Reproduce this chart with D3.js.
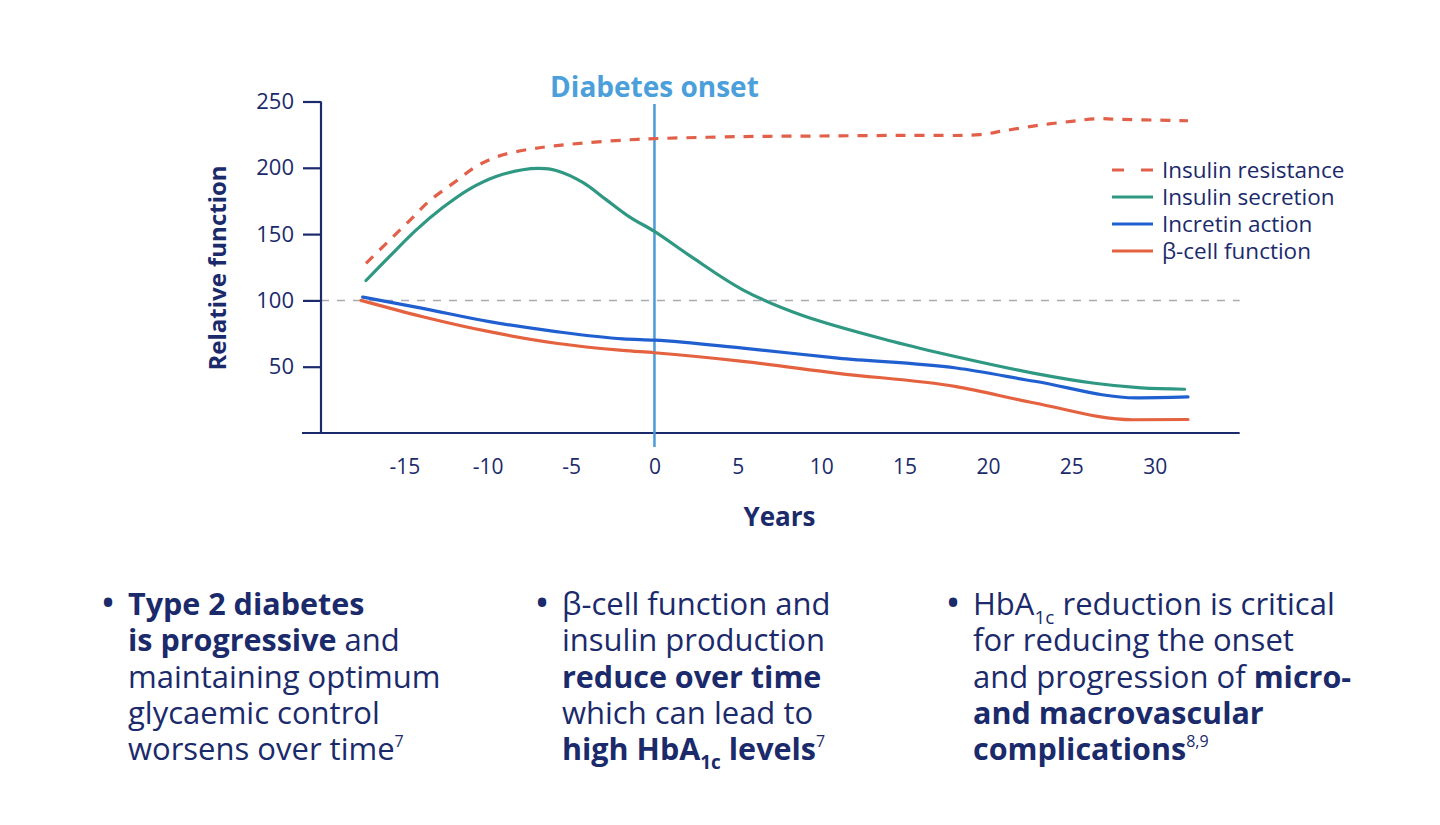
<!DOCTYPE html>
<html>
<head>
<meta charset="utf-8">
<script src="https://cdn.jsdelivr.net/npm/d3@7"></script>
<style>
  html, body { margin: 0; padding: 0; background: #ffffff; }
  svg { display: block; font-family: "Open Sans", "Noto Sans", sans-serif; }
</style>
</head>
<body>
<svg id="chart" width="1440" height="825"></svg>
<script>
// ---------------- DATA ----------------
const xTickValues = [-15, -10, -5, 0, 5, 10, 15, 20, 25, 30];
const yTickValues = [50, 100, 150, 200, 250];
const referenceLevel = 100;
const onsetYear = 0;

const resistanceYears  = [-17.3, -16, -14.7, -13.5, -12, -10.7, -9.3, -7.5, -6, -4, -1, 0, 5, 10, 15, 19.5, 21, 23, 25, 26.5, 28, 30, 32];
const resistanceValues = [128, 144, 160, 175, 189, 201, 209, 214, 216.5, 219, 221.5, 222, 223.5, 224, 224.5, 225, 228, 232, 235, 237, 236.5, 236, 235.5];

const secretionYears  = [-17.3, -15.9, -14.3, -12.7, -11.1, -9.5, -7.9, -6.9, -5.9, -4.3, -2.9, -1.5, 0, 2.2, 5.3, 8.8, 14.3, 18.1, 22.8, 26.4, 29.2, 31.8];
const secretionValues = [115, 133, 153, 170, 184, 193.5, 198.5, 199.5, 198, 189, 176, 163, 152, 133, 108, 89, 69, 57.5, 45, 37.5, 34, 33];

const incretinYears  = [-17.5, -13.9, -9.9, -5.9, -1.9, 0, 5.3, 11, 18.1, 22.8, 28.9, 32];
const incretinValues = [102.5, 94, 84, 76.5, 71, 70, 64, 56.5, 49, 39, 26.5, 27.2];

const betaYears  = [-17.6, -13.9, -9.9, -5.9, -1.9, 0, 5.3, 11, 18.1, 22.8, 28.7, 32];
const betaValues = [100, 87.7, 76.4, 67.7, 62.3, 60.5, 54, 45, 35, 22.6, 10, 10.2];

const seriesNames = ["Insulin resistance", "Insulin secretion", "Incretin action", "β-cell function"];

// ---------------- STYLE ----------------
const navy = "#1b2a6b";
const seriesStyles = [
  { color: "#e2604a", dash: "10,9", curve: d3.curveCatmullRom.alpha(0.5) },
  { color: "#2f9882", dash: null, curve: d3.curveCatmullRom.alpha(0.5) },
  { color: "#1f5fd0", dash: null, curve: d3.curveMonotoneX },
  { color: "#e4623f", dash: null, curve: d3.curveMonotoneX }
];

const svg = d3.select("#chart");

const x = d3.scaleLinear().domain([-20, 35]).range([321, 1238]);
const y = d3.scaleLinear().domain([0, 250]).range([433, 101.5]);

// reference dashed line at 100
svg.append("line")
  .attr("x1", x(-20)).attr("x2", x(35.1))
  .attr("y1", y(referenceLevel)).attr("y2", y(referenceLevel))
  .attr("stroke", "#a9abb0").attr("stroke-width", 1.5)
  .attr("stroke-dasharray", "8,8");

// Y axis
const yAxis = d3.axisLeft(y).tickValues(yTickValues).tickSize(18).tickPadding(9);
const gy = svg.append("g").attr("transform", `translate(${x(-20)},0)`).call(yAxis);
gy.select(".domain").attr("stroke", navy).attr("stroke-width", 2.2)
  .attr("d", `M-0,${y(250)}V${y(0)}`);
gy.selectAll(".tick line").attr("stroke", navy).attr("stroke-width", 2.2);
gy.selectAll(".tick text").attr("fill", navy).attr("font-size", 22)
  .attr("font-family", "'Open Sans', sans-serif");

// X axis
const xAxis = d3.axisBottom(x).tickValues(xTickValues).tickSize(0).tickPadding(26)
  .tickFormat(d => String(d));
const gx = svg.append("g").attr("transform", `translate(0,${y(0)})`).call(xAxis);
gx.select(".domain").attr("stroke", navy).attr("stroke-width", 2.2)
  .attr("d", `M302,0H${x(35.1)}`);
gx.selectAll(".tick text").attr("fill", navy).attr("font-size", 21)
  .attr("font-family", "'Open Sans', sans-serif");

// Axis titles
svg.append("text")
  .attr("transform", `translate(226,268) rotate(-90)`)
  .attr("text-anchor", "middle")
  .attr("fill", navy).attr("font-size", 24).attr("font-weight", 700)
  .text("Relative function");

svg.append("text")
  .attr("x", (x(-20) + x(35)) / 2).attr("y", 526)
  .attr("text-anchor", "middle")
  .attr("fill", navy).attr("font-size", 26).attr("font-weight", 700)
  .text("Years");

// Onset line and label
svg.append("line")
  .attr("x1", x(onsetYear)).attr("x2", x(onsetYear))
  .attr("y1", 104).attr("y2", 447)
  .attr("stroke", "#4b9bd6").attr("stroke-width", 2.5);
svg.append("text")
  .attr("x", x(onsetYear)).attr("y", 97)
  .attr("text-anchor", "middle")
  .attr("fill", "#4b9fda").attr("font-size", 28).attr("font-weight", 700)
  .text("Diabetes onset");

// Series
const allSeries = [
  { years: resistanceYears, values: resistanceValues },
  { years: secretionYears, values: secretionValues },
  { years: incretinYears, values: incretinValues },
  { years: betaYears, values: betaValues }
];

[3, 2, 1, 0].forEach(i => {
  const s = allSeries[i];
  const pts = s.years.map((yr, j) => [yr, s.values[j]]);
  const line = d3.line().x(d => x(d[0])).y(d => y(d[1])).curve(seriesStyles[i].curve);
  svg.append("path")
    .datum(pts)
    .attr("d", line)
    .attr("fill", "none")
    .attr("stroke", seriesStyles[i].color)
    .attr("stroke-width", 3.2)
    .attr("stroke-linecap", seriesStyles[i].dash ? "butt" : "round")
    .attr("stroke-linejoin", "round")
    .attr("stroke-dasharray", seriesStyles[i].dash);
});

// Legend
const legend = svg.append("g").attr("transform", "translate(1112,170)");
seriesNames.forEach((name, i) => {
  const g = legend.append("g").attr("transform", `translate(0,${i * 27})`);
  g.append("line").attr("x1", 0).attr("x2", 41).attr("y1", 0).attr("y2", 0)
    .attr("stroke", seriesStyles[i].color).attr("stroke-width", 3.2)
    .attr("stroke-dasharray", seriesStyles[i].dash ? "12,17" : null);
  g.append("text").attr("x", 50).attr("y", 0).attr("dy", "0.35em")
    .attr("fill", navy).attr("font-size", 22.5)
    .text(name);
});

// ---------------- BULLET TEXT ----------------
const bulletCols = [
  { bx: 108, tx: 128, lines: [
    [["Type 2 diabetes", "b"]],
    [["is progressive", "b"], [" and", ""]],
    [["maintaining optimum", ""]],
    [["glycaemic control", ""]],
    [["worsens over time", ""], ["7", "sup"]]
  ]},
  { bx: 542, tx: 562, lines: [
    [["β-cell function and", ""]],
    [["insulin production", ""]],
    [["reduce over time", "b"]],
    [["which can lead to", ""]],
    [["high HbA", "b"], ["1c", "bsub"], [" levels", "b"], ["7", "sup"]]
  ]},
  { bx: 953, tx: 973, lines: [
    [["HbA", ""], ["1c", "sub"], [" reduction is critical", ""]],
    [["for reducing the onset", ""]],
    [["and progression of ", ""], ["micro-", "b"]],
    [["and macrovascular", "b"]],
    [["complications", "b"], ["8,9", "sup"]]
  ]}
];
const firstBaseline = 615;
const lineGap = 36.3;

bulletCols.forEach(col => {
  svg.append("text").attr("x", col.bx).attr("y", firstBaseline + 2)
    .attr("text-anchor", "middle")
    .attr("fill", navy).attr("font-size", 40).text("•");
  col.lines.forEach((segs, li) => {
    const t = svg.append("text")
      .attr("x", col.tx).attr("y", firstBaseline + li * lineGap)
      .attr("fill", navy).attr("font-size", 31);
    let shift = 0;
    segs.forEach(([str, kind]) => {
      const ts = t.append("tspan").text(str);
      let target = 0;
      if (kind === "sup") { target = -13; ts.attr("font-size", 16); }
      if (kind === "sub" || kind === "bsub") { target = 9; ts.attr("font-size", 19); }
      if (kind === "b" || kind === "bsub") ts.attr("font-weight", 700).attr("font-size", kind === "bsub" ? 19 : 30.5);
      ts.attr("dy", target - shift);
      shift = target;
    });
  });
});
</script>
</body>
</html>
